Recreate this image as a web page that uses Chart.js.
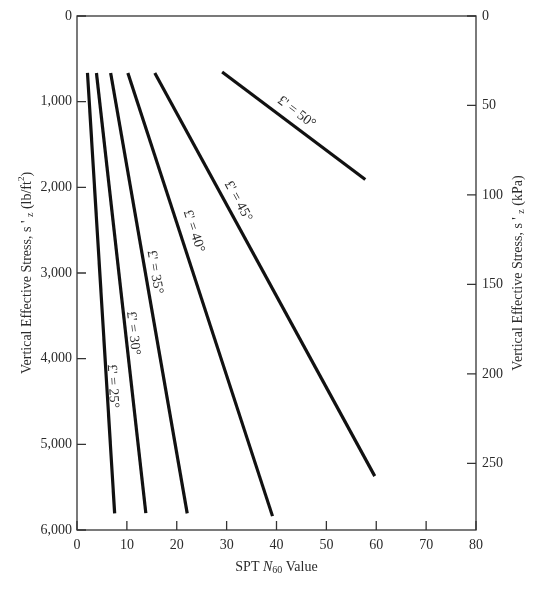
<!DOCTYPE html>
<html>
<head>
<meta charset="utf-8">
<script src="https://cdn.jsdelivr.net/npm/chart.js@4.4.1/dist/chart.umd.min.js"></script>
<style>
  html, body { margin: 0; padding: 0; background: #fff; }
  #wrap { width: 556px; height: 597px; position: relative; }
</style>
</head>
<body>
<div id="wrap"><canvas id="chart"></canvas></div>
<script>
// friction angle curves (N60 vs vertical effective stress in lb/ft2)
const phiAngles = ['25', '30', '35', '40', '45', '50'];
const n60Top = [2.1, 3.9, 6.75, 10.2, 15.6, 29.1];
const stressTop = [665, 665, 665, 665, 665, 653];
const n60Bottom = [7.55, 13.8, 22.1, 39.2, 59.7, 57.8];
const stressBottom = [5806, 5803, 5806, 5838, 5371, 1909];

// axis ticks
const n60Ticks = [0, 10, 20, 30, 40, 50, 60, 70, 80];
const psfTicks = [0, 1000, 2000, 3000, 4000, 5000, 6000];
const kpaTicks = [0, 50, 100, 150, 200, 250];
const PSF_TO_KPA = 0.04788;

// where each curve label sits (data coords)
const labelN60 = [7.15, 11.25, 15.6, 23.4, 32.3, 44.0];
const labelStress = [4321, 3703, 2990, 2512, 2162, 1124];

const SERIF = '"Liberation Serif", "DejaVu Serif", serif';
const INK = '#2b2b2b';

const datasets = phiAngles.map((a, i) => ({
  label: "φ' = " + a + '°',
  data: [
    { x: n60Top[i], y: stressTop[i] },
    { x: n60Bottom[i], y: stressBottom[i] }
  ],
  showLine: true,
  borderColor: '#111',
  borderWidth: 3.2,
  pointRadius: 0,
  borderCapStyle: 'butt'
}));

// draw a row of text runs (for subscripts / italics), centred on 0,0
function drawRuns(ctx, runs) {
  let total = 0;
  runs.forEach(r => { ctx.font = r.font; r.w = ctx.measureText(r.text).width; total += r.w; });
  let x = -total / 2;
  ctx.textBaseline = 'middle';
  ctx.textAlign = 'left';
  runs.forEach(r => {
    ctx.font = r.font;
    ctx.fillText(r.text, x, r.dy || 0);
    x += r.w;
  });
}

const frame = {
  id: 'frame',
  afterDraw(chart) {
    const { ctx, chartArea: a, scales } = chart;
    ctx.save();
    ctx.strokeStyle = '#333';
    ctx.lineWidth = 1.3;
    ctx.strokeRect(a.left, a.top, a.right - a.left, a.bottom - a.top);

    // inward tick marks
    const len = 9;
    ctx.beginPath();
    scales.x.ticks.forEach(t => {
      const px = scales.x.getPixelForValue(t.value);
      ctx.moveTo(px, a.bottom); ctx.lineTo(px, a.bottom - len);
    });
    scales.y.ticks.forEach(t => {
      const py = scales.y.getPixelForValue(t.value);
      ctx.moveTo(a.left, py); ctx.lineTo(a.left + len, py);
    });
    scales.y2.ticks.forEach(t => {
      const py = scales.y2.getPixelForValue(t.value);
      ctx.moveTo(a.right, py); ctx.lineTo(a.right - len, py);
    });
    ctx.stroke();

    // curve labels rotated along each line
    ctx.fillStyle = INK;
    phiAngles.forEach((ang, i) => {
      const x0 = scales.x.getPixelForValue(n60Top[i]);
      const y0 = scales.y.getPixelForValue(stressTop[i]);
      const x1 = scales.x.getPixelForValue(n60Bottom[i]);
      const y1 = scales.y.getPixelForValue(stressBottom[i]);
      const rot = Math.atan2(y1 - y0, x1 - x0);
      ctx.save();
      ctx.translate(scales.x.getPixelForValue(labelN60[i]), scales.y.getPixelForValue(labelStress[i]));
      ctx.rotate(rot);
      drawRuns(ctx, [{ text: "£' = " + ang + '°', font: '14px ' + SERIF }]);
      ctx.restore();
    });

    // axis titles
    const big = '14px ' + SERIF;
    const sub = '10px ' + SERIF;
    const sup = '9px ' + SERIF;
    ctx.save();
    ctx.translate(27, (a.top + a.bottom) / 2);
    ctx.rotate(-Math.PI / 2);
    drawRuns(ctx, [
      { text: "Vertical Effective Stress, s ' ", font: big },
      { text: 'z', font: sub, dy: 3 },
      { text: ' (lb/ft', font: big },
      { text: '2', font: sup, dy: -5 },
      { text: ')', font: big }
    ]);
    ctx.restore();

    ctx.save();
    ctx.translate(518, (a.top + a.bottom) / 2);
    ctx.rotate(-Math.PI / 2);
    drawRuns(ctx, [
      { text: "Vertical Effective Stress, s ' ", font: big },
      { text: 'z', font: sub, dy: 3 },
      { text: ' (kPa)', font: big }
    ]);
    ctx.restore();

    ctx.save();
    ctx.translate((a.left + a.right) / 2, 567);
    drawRuns(ctx, [
      { text: 'SPT ', font: big },
      { text: 'N', font: 'italic ' + big },
      { text: '60', font: sub, dy: 3 },
      { text: ' Value', font: big }
    ]);
    ctx.restore();
    ctx.restore();
  }
};

const tickFont = { family: SERIF, size: 14 };

new Chart(document.getElementById('chart'), {
  type: 'scatter',
  data: { datasets },
  options: {
    responsive: true,
    maintainAspectRatio: false,
    animation: false,
    layout: { padding: { top: 16, left: 0, right: 0, bottom: 0 } },
    plugins: { legend: { display: false }, tooltip: { enabled: false } },
    scales: {
      x: {
        type: 'linear',
        min: 0, max: 80,
        afterBuildTicks: s => { s.ticks = n60Ticks.map(v => ({ value: v })); },
        afterFit: s => { s.height = 67; },
        ticks: { font: tickFont, color: INK, padding: 7, maxRotation: 0 },
        grid: { display: false, drawTicks: false },
        border: { display: false }
      },
      y: {
        type: 'linear',
        position: 'left',
        reverse: true,
        min: 0, max: 6000,
        afterBuildTicks: s => { s.ticks = psfTicks.map(v => ({ value: v })); },
        afterFit: s => { s.width = 77; },
        ticks: { font: tickFont, color: INK, padding: 5, callback: v => v.toLocaleString('en-US') },
        grid: { display: false, drawTicks: false },
        border: { display: false }
      },
      y2: {
        type: 'linear',
        position: 'right',
        reverse: true,
        min: 0, max: 6000 * PSF_TO_KPA,
        afterBuildTicks: s => { s.ticks = kpaTicks.map(v => ({ value: v })); },
        afterFit: s => { s.width = 80; },
        ticks: { font: tickFont, color: INK, padding: 6 },
        grid: { display: false, drawTicks: false },
        border: { display: false }
      }
    }
  },
  plugins: [frame]
});
</script>
</body>
</html>
